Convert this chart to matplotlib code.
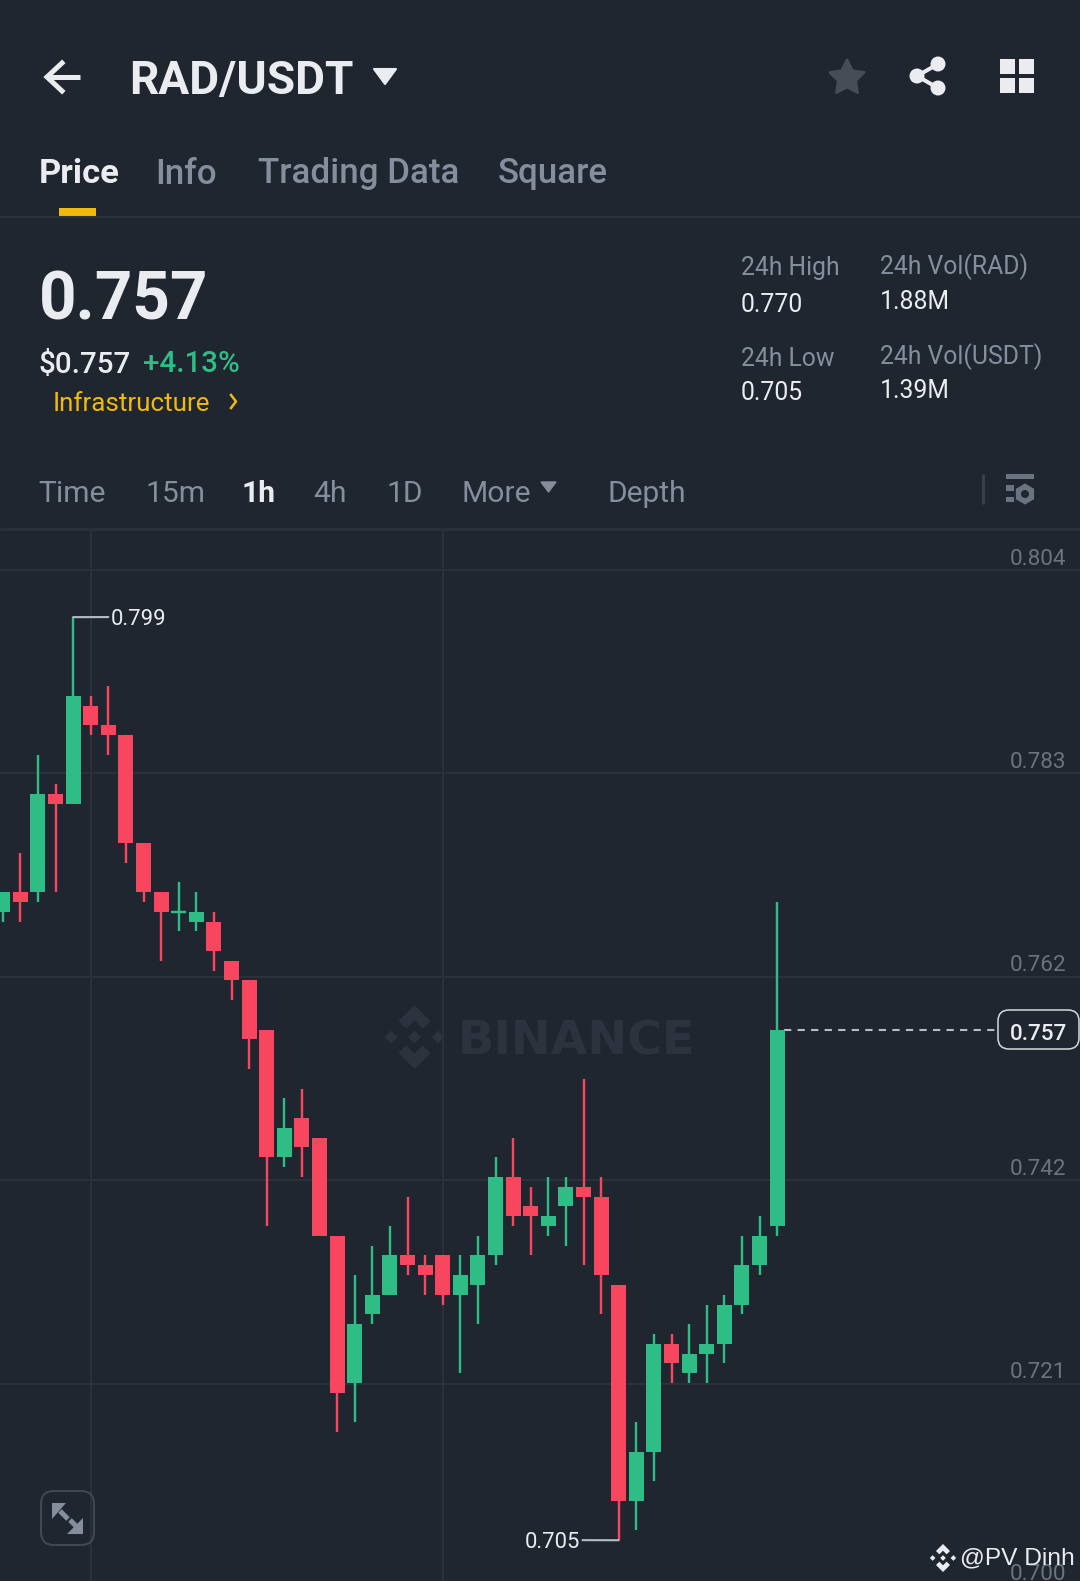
import math
import matplotlib
matplotlib.use("Agg")
import matplotlib.pyplot as plt
from matplotlib.patches import Polygon, Circle, FancyBboxPatch, Rectangle, RegularPolygon
from matplotlib.lines import Line2D
from matplotlib.transforms import blended_transform_factory

# ---- data -------------------------------------------------------------
opens  = [.769,.771,.771,.781,.780,.790,.788,.787,.776,.771,.769,.768,.768,.764,.762,.757,
          .744,.748,.746,.736,.721,.728,.730,.734,.733,.734,.730,.731,.734,.742,.739,.737,
          .739,.741,.740,.731,.709,.714,.725,.722,.724,.725,.729,.733,.737]
closes = [.771,.770,.781,.780,.791,.788,.787,.776,.771,.769,.769,.769,.765,.762,.756,.744,
          .747,.745,.736,.720,.727,.730,.734,.733,.732,.730,.732,.734,.742,.738,.738,.738,
          .741,.740,.732,.709,.714,.725,.723,.724,.725,.729,.733,.736,.757]
highs  = [.771,.775,.785,.782,.799,.791,.792,.787,.776,.771,.772,.771,.769,.764,.762,.757,
          .750,.751,.746,.736,.732,.735,.737,.740,.734,.734,.734,.736,.744,.746,.741,.742,
          .742,.752,.742,.731,.717,.726,.726,.727,.729,.730,.736,.738,.770]
lows   = [.768,.768,.770,.771,.780,.787,.785,.774,.770,.764,.767,.767,.763,.760,.753,.737,
          .743,.742,.736,.716,.717,.727,.730,.732,.730,.729,.722,.727,.733,.737,.734,.736,
          .735,.733,.728,.705,.706,.711,.721,.721,.721,.723,.728,.732,.736]
grid_prices = [.80376,.7831,.76236,.74168,.72096]
grid_labels = ["0.804","0.783","0.762","0.742","0.721"]
vgrid_index = [5,25]
tabs = [("Price",39,"#eaecef"),("Info",155.5,"#848e9c"),("Trading Data",258,"#848e9c"),("Square",497.5,"#848e9c")]
periods = [("Time",38,"#848e9c"),("15m",145,"#848e9c"),("1h",242,"#eaecef"),("4h",313,"#848e9c"),
           ("1D",386.5,"#848e9c"),("More",461.5,"#848e9c"),("Depth",607.5,"#848e9c")]
stats = [("24h High",741,268,"#848e9c"),("0.770",741,304.5,"#eaecef"),("24h Vol(RAD)",880,267,"#848e9c"),("1.88M",880,302,"#eaecef"),
         ("24h Low",741,359,"#848e9c"),("0.705",741,393,"#eaecef"),("24h Vol(USDT)",880,357,"#848e9c"),("1.39M",880,391.5,"#eaecef")]
last_price = .757

# ---- constants --------------------------------------------------------
W, H = 1080, 1581
BG, GRID = "#1f2630", "#2b313b"
GREEN, RED = "#2ebd85", "#f9465f"
FONT = "Roboto"
PXPT = 0.72
LABEL = "#6b7380"
fig = plt.figure(figsize=(W/100, H/100), dpi=100, facecolor=BG)

def overlay(z):
    a = fig.add_axes([0,0,1,1], zorder=z)
    a.set_xlim(0,W); a.set_ylim(H,0); a.axis("off")
    return a
bg = overlay(0)
top = overlay(2)

def T(a,x,y,s,px,color,weight="normal",ha="left",family=FONT,**k):
    return a.text(x,y,s,fontsize=px*PXPT,color=color,fontweight=weight,ha=ha,va="center",family=family,**k)

def logo(a,cx,cy,r,color):
    def P(pts):
        a.add_patch(Polygon([(cx+r*u,cy+r*v) for u,v in pts],closed=True,fc=color,ec="none"))
    d=.2
    for ox in (-.74,0,.74):
        P([(ox-d,0),(ox,-d),(ox+d,0),(ox,d)])
    chev=[(0,-1),(.5,-.5),(.26,-.26),(0,-.52),(-.26,-.26),(-.5,-.5)]
    P(chev); P([(u,-v) for u,v in chev])

# ---- header -----------------------------------------------------------
ic = "#eaecef"
bg.add_line(Line2D([48,80],[77,77],color=ic,lw=5*PXPT,solid_capstyle="butt"))
bg.add_line(Line2D([62,47,62],[63,77,91],color=ic,lw=5*PXPT,solid_joinstyle="miter"))
T(bg,129,81,"RAD/USDT",46,ic,"bold")
bg.add_patch(Polygon([(374,69),(396,69),(385,84)],fc=ic,ec=ic,lw=1.5,joinstyle="round"))
star=[(847+(18 if k%2==0 else 9)*math.sin(k*math.pi/5),78-(18 if k%2==0 else 9)*math.cos(k*math.pi/5)) for k in range(10)]
bg.add_patch(Polygon(star,closed=True,fc="#474d57",ec="#474d57",lw=2,joinstyle="round"))
for (x0,y0) in [(938,64),(917,76),(938,88)]:
    bg.add_patch(Circle((x0,y0),7.5,fc=ic,ec="none"))
bg.add_line(Line2D([938,917,938],[64,76,88],color=ic,lw=4*PXPT))
for (x0,y0) in [(1000,59),(1019,59),(1000,78),(1019,78)]:
    bg.add_patch(Rectangle((x0,y0),15,15,fc=ic,ec="none"))
for s,x,c in tabs:
    T(bg,x,174,s,34.5 if s=="Price" else 35,c,"bold" if s=="Price" else "medium")
bg.add_patch(Rectangle((59,208),37,8,fc="#f0b90b",ec="none"))
bg.hlines(216.5,0,W,color=GRID,lw=1.5)

T(bg,39,301,"0.757",65.5,ic,"bold")
T(bg,39,364.5,"$0.757",29.5,ic,"medium")
T(bg,143,364.5,"+4.13%",29.5,GREEN,"medium")
T(bg,53,404,"Infrastructure",26,"#f0b90b")
bg.add_line(Line2D([231,236,231],[395,401.5,408],color="#f0b90b",lw=2.5*PXPT))
for s,x,y,c in stats:
    T(bg,x,y,s,24.7,c)
for s,x,c in periods:
    T(bg,x,494,s,30,c,"bold" if s=="1h" else "normal")
bg.add_patch(Polygon([(541,482),(556,482),(548.5,492)],fc="#848e9c",ec="#848e9c",lw=1))
bg.vlines(983,474,504,color="#3a424e",lw=2)
g=LABEL
bg.add_patch(Rectangle((1006,474),28,5,fc=g,ec="none"))
bg.add_patch(Rectangle((1006,485),8,6,fc=g,ec="none"))
bg.add_patch(Rectangle((1006,497),8,5,fc=g,ec="none"))
bg.add_patch(RegularPolygon((1025,494),6,radius=10.5,fc=g,ec="none"))
bg.add_patch(Circle((1025,494),4,fc=BG,ec="none"))
bg.hlines(528.5,0,W,color=GRID,lw=2)

# BINANCE watermark (below the candles)
WM = "#2c333e"
logo(bg,414.5,1037,32,WM)
T(bg,457.5,1042,"BINANCE",47.5,WM,"bold",family="DejaVu Sans")

# ---- chart ------------------------------------------------------------
def yprice(px): return last_price+(1029.6-px)/9820
def xidx(px): return (px-2.7)/17.6
ax = fig.add_axes([0,0,1,(H-528.5)/H],zorder=1)
ax.patch.set_alpha(0)
ax.set_xlim(xidx(0),xidx(W)); ax.set_ylim(yprice(H),yprice(528.5))
ax.axis("off")
ax.hlines(grid_prices,xidx(0),xidx(W),color=GRID,lw=1.5,zorder=1)
ax.vlines(vgrid_index,yprice(H),yprice(528.5),color=GRID,lw=1.5,zorder=1)
trans=blended_transform_factory(fig.transFigure,ax.transData)
for p,l in zip(grid_prices,grid_labels):
    ax.annotate(l,xy=(1066/W,p),xycoords=trans,xytext=(0,11*PXPT),textcoords="offset points",
                ha="right",va="center",fontsize=22.5*PXPT,color=LABEL,family=FONT)
for i,(o,h,l,c) in enumerate(zip(opens,highs,lows,closes)):
    col = GREEN if c>=o else RED
    ax.vlines(i,l,h,color=col,lw=2.4*PXPT,zorder=3)
    if abs(c-o)<1e-9:
        ax.hlines(o,i-.43,i+.43,color=col,lw=2.4*PXPT,zorder=3)
    else:
        ax.bar(i,abs(c-o),bottom=min(o,c),width=.85,color=col,zorder=3,linewidth=0)
hi_i=highs.index(max(highs[:10])); lo_i=lows.index(min(lows))
ax.annotate("0.799",xy=(hi_i,highs[hi_i]),xytext=(38*PXPT,-2*PXPT),textcoords="offset points",ha="left",va="center",
            fontsize=22*PXPT,color=ic,family=FONT,zorder=4,
            arrowprops=dict(arrowstyle="-",color="#b7bdc6",lw=1.5,shrinkA=0,shrinkB=0,relpos=(0,.6)))
ax.annotate("0.705",xy=(lo_i,lows[lo_i]),xytext=(-39*PXPT,-2*PXPT),textcoords="offset points",ha="right",va="center",
            fontsize=22*PXPT,color=ic,family=FONT,zorder=4,
            arrowprops=dict(arrowstyle="-",color="#b7bdc6",lw=1.5,shrinkA=0,shrinkB=0,relpos=(1,.6)))
ax.hlines(last_price,44.4,xidx(998),color="#b7bdc6",lw=1.5,linestyles=(0,(3.5,3)),zorder=2)

# ---- top layer --------------------------------------------------------
top.add_patch(FancyBboxPatch((1007,1019),63,21,boxstyle="round,pad=9,rounding_size=11",fc=BG,ec="#d5d9de",lw=1.1))
T(top,1038.5,1035,"0.757",22.5,ic,"medium",ha="center")
T(top,1066,1575,"0.700",22.5,LABEL,ha="right")
top.add_patch(FancyBboxPatch((54,1504),27,28,boxstyle="round,pad=13,rounding_size=13",fc="none",ec="#414854",lw=1.5))
g2="#848e9c"
top.add_patch(Polygon([(52,1503),(66,1503),(52,1519)],fc=g2,ec="none"))
top.add_patch(Polygon([(83,1518),(83,1534),(67,1534)],fc=g2,ec="none"))
top.add_line(Line2D([60,68],[1511,1519],color=g2,lw=5*PXPT,solid_capstyle="butt"))
top.add_line(Line2D([70,76],[1520,1526],color=g2,lw=5*PXPT,solid_capstyle="butt"))
logo(top,943,1558,14,"#eaecef")
T(top,960,1558,"@PV Dinh",24.5,"#eaecef",family="Liberation Sans")

fig.savefig("out.png",dpi=100,facecolor=BG)
